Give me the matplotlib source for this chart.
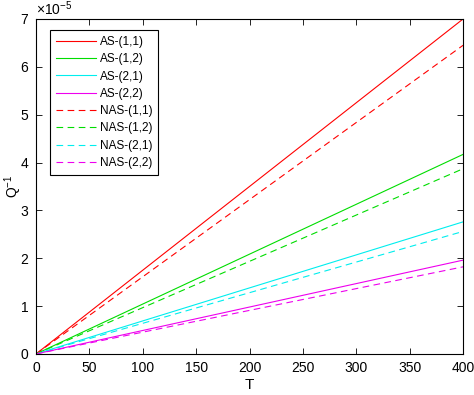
import matplotlib
matplotlib.use('Agg')
import matplotlib.pyplot as plt
from matplotlib.ticker import ScalarFormatter
import numpy as np

plt.rcParams['font.family'] = ['Liberation Sans', 'DejaVu Sans']
plt.rcParams['mathtext.fontset'] = 'custom'
plt.rcParams['mathtext.rm'] = 'Liberation Sans'
plt.rcParams['mathtext.it'] = 'Liberation Sans'

# data: loss Q^-1 vs T, straight lines through origin
T = np.array([0, 400])
as_11 = np.array([0, 7.00e-5])
as_12 = np.array([0, 4.17e-5])
as_21 = np.array([0, 2.76e-5])
as_22 = np.array([0, 1.96e-5])
nas_11 = np.array([0, 6.45e-5])
nas_12 = np.array([0, 3.87e-5])
nas_21 = np.array([0, 2.56e-5])
nas_22 = np.array([0, 1.82e-5])

fig = plt.figure(figsize=(4.74, 3.95), dpi=100)
ax = fig.add_axes([0.076, 0.104, 0.901, 0.848])

lw = 0.8
ax.plot(T, as_11, color='#ff0000', lw=lw, label='AS-(1,1)')
ax.plot(T, as_12, color='#00dd00', lw=lw, label='AS-(1,2)')
ax.plot(T, as_21, color='#00eeee', lw=lw, label='AS-(2,1)')
ax.plot(T, as_22, color='#ee00ee', lw=lw, label='AS-(2,2)')
ax.plot(T, nas_11, color='#ff0000', lw=lw, ls=(0, (6, 4)), label='NAS-(1,1)')
ax.plot(T, nas_12, color='#00dd00', lw=lw, ls=(0, (6, 4)), label='NAS-(1,2)')
ax.plot(T, nas_21, color='#00eeee', lw=lw, ls=(0, (6, 4)), label='NAS-(2,1)')
ax.plot(T, nas_22, color='#ee00ee', lw=lw, ls=(0, (6, 4)), label='NAS-(2,2)')

ax.set_xlim(0, 400)
ax.set_ylim(0, 7e-5)
ax.set_xticks(np.arange(0, 401, 50))
ax.set_yticks(np.arange(0, 8e-5, 1e-5))

fmt = ScalarFormatter(useMathText=True)
fmt.set_powerlimits((0, 0))
ax.yaxis.set_major_formatter(fmt)
ax.yaxis.get_offset_text().set_fontsize(10)

ax.tick_params(direction='in', top=True, right=True, length=4, width=0.6,
               labelsize=10, pad=5)
for s in ax.spines.values():
    s.set_linewidth(0.8)

ax.set_xlabel('T', fontsize=11, labelpad=2)
ax.set_ylabel(r'Q$^{-1}$', fontsize=10)
ax.yaxis.set_label_coords(-0.028, 0.5)

leg = ax.legend(loc='upper left', bbox_to_anchor=(0.033, 0.967), borderaxespad=0,
                fontsize=8.5, fancybox=False, framealpha=1, edgecolor='black',
                handlelength=3.4, labelspacing=0.45, handletextpad=0.3,
                borderpad=0.5)
leg.get_frame().set_linewidth(0.8)

fig.savefig('out.png', dpi=100)
